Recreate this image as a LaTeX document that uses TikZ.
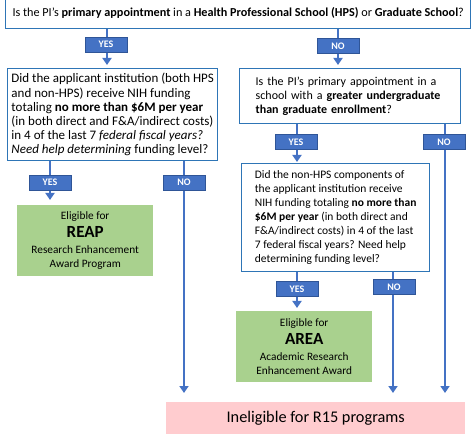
\documentclass[tikz,border=0pt]{standalone}
\usepackage{fontspec}
\setmainfont{Carlito}
\usetikzlibrary{arrows.meta,positioning}
\definecolor{boxblue}{HTML}{2E75B6}
\definecolor{tagblue}{HTML}{4472C4}
\definecolor{tagedge}{HTML}{2F5597}
\definecolor{okgreen}{HTML}{A9D18E}
\definecolor{nopink}{HTML}{FFCCCF}

\begin{document}
\begin{tikzpicture}[x=1pt,y=-1pt,
  qbox/.style={rectangle,draw=boxblue,line width=1.4pt,fill=white,anchor=north west,align=left,
    inner ysep=0pt,font=\fontsize{11.5}{14}\selectfont},
  okbox/.style={rectangle,fill=okgreen,anchor=north west,align=center,inner sep=0pt,
    font=\fontsize{11.3}{15}\selectfont},
  tag/.style={rectangle,draw=tagedge,line width=0.8pt,fill=tagblue,text=white,
    minimum width=42pt,minimum height=15pt,inner sep=0pt,font=\bfseries\fontsize{10}{11}\selectfont},
  flow/.style={draw=tagblue,line width=2pt,-{Triangle[width=9pt,length=7pt]}}]
\useasboundingbox (0,0) rectangle (474,438);
% questions
\node[qbox,minimum width=465,minimum height=31,align=center,font=\fontsize{12.2}{14}\selectfont] (q1) at (5,-3)
  {Is the PI’s \textbf{primary appointment} in a \textbf{Health Professional School (HPS)} or \textbf{Graduate School}?};
\node[qbox,minimum width=210,minimum height=92,font=\fontsize{13}{14.2}\selectfont] (q2) at (7,68)
  {Did the applicant institution (both HPS\\ and non-HPS) receive NIH funding\\ totaling \textbf{no more than \$6M per year}\\
   (in both direct and F\&A/indirect costs)\\ in 4 of the last 7 \textit{federal fiscal years?}\\ \textit{Need help determining} funding level?};
\node[qbox,minimum width=221,minimum height=55,text width=189,inner xsep=16pt,font=\fontsize{12}{14}\selectfont] (q3) at (239,68)
  {Is the PI’s primary appointment in a\\ school with a \textbf{greater undergraduate}\\ \textbf{than graduate enrollment}?};
\node[qbox,minimum width=188,minimum height=108] (q4) at (241,163)
  {Did the non-HPS components of\\ the applicant institution receive\\ NIH funding totaling \textbf{no more than}\\
   \textbf{\$6M per year} (in both direct and\\ F\&A/indirect costs) in 4 of the last\\ 7 federal fiscal years? Need help\\ determining funding level?};
% outcomes
\node[okbox,minimum width=136,minimum height=71] (reap) at (17,205)
  {Eligible for\\[3pt] {\bfseries\fontsize{17}{18}\selectfont REAP}\\[1pt] Research Enhancement\\[-1pt] Award Program};
\node[okbox,minimum width=136,minimum height=71] (area) at (236,311)
  {Eligible for\\[3pt] {\bfseries\fontsize{17}{18}\selectfont AREA}\\[1pt] Academic Research\\[-1pt] Enhancement Award};
\node[rectangle,fill=nopink,anchor=north west,minimum width=299,minimum height=32,inner sep=0pt,
  font=\fontsize{16.3}{18}\selectfont] (pink) at (166,402) {Ineligible for R15 programs};
% connectors
\draw[flow,shorten >=3pt] (107,0 |- q1.south) -- (107,0 |- q2.north);
\draw[flow,shorten >=3pt] (338,0 |- q1.south) -- (338,0 |- q3.north);
\draw[flow,shorten >=5pt] (50,0 |- q2.south) -- (50,0 |- reap.north);
\draw[flow,shorten >=9pt] (184,0 |- q2.south) -- (184,0 |- pink.north);
\draw[flow,shorten >=1pt] (297,0 |- q3.south) -- (297,0 |- q4.north);
\draw[flow,shorten >=9pt] (445,0 |- q3.south) -- (445,0 |- pink.north);
\draw[flow,shorten >=3pt] (297,0 |- q4.south) -- (297,0 |- area.north);
\draw[flow,shorten >=9pt] (393,0 |- q4.south) -- (393,0 |- pink.north);
% answer tags
\node[tag] (y1) at (106,44.5) {YES};
\node[tag] (n1) at (338,46) {NO};
\node[tag] (y2) at (50,182.5) {YES};
\node[tag] (n2) at (184,182.5) {NO};
\node[tag] (y3) at (296,142) {YES};
\node[tag] (n3) at (444,142) {NO};
\node[tag] (y4) at (297,289) {YES};
\node[tag] (n4) at (394,287) {NO};
\end{tikzpicture}
\end{document}
